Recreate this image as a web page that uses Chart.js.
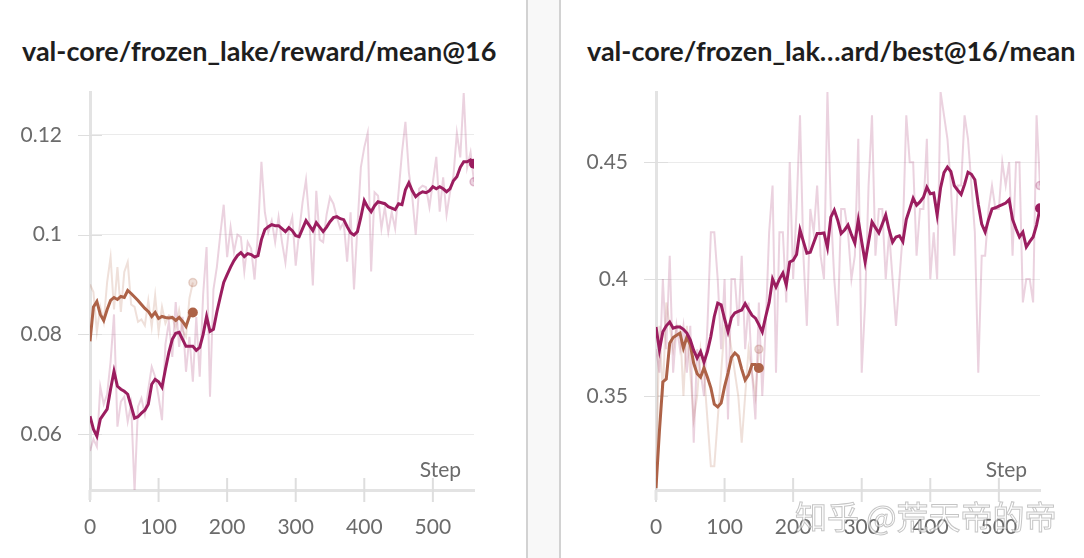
<!DOCTYPE html>
<html>
<head>
<meta charset="utf-8">
<script src="https://cdn.jsdelivr.net/npm/chart.js@4.4.1/dist/chart.umd.min.js"></script>
<style>
  body { margin: 0; width: 1084px; height: 558px; background: #fff; position: relative; overflow: hidden; }
  canvas { position: absolute; top: 0; }
  .title { position: absolute; top: 34px; font: bold 27px Lato, sans-serif; color: #1e1e1e; white-space: nowrap; }
  .divider { position: absolute; left: 526px; top: 0; width: 31px; height: 558px; background: #f8f8f8;
             border-left: 2px solid #d2d2d2; border-right: 2px solid #d2d2d2; }
  .mark { position: absolute; left: 795px; top: 492px; font: 32px "Noto Sans CJK SC", sans-serif;
          color: rgba(255,255,255,0.6); -webkit-text-stroke: 1px rgba(110,110,110,0.4); white-space: nowrap; }
</style>
</head>
<body>
<div class="title" style="left:22px">val-core/frozen_lake/reward/mean@16</div>
<div class="divider"></div>
<div class="title" style="left:587px">val-core/frozen_lak…ard/best@16/mean</div>
<canvas id="left" width="527" height="558" style="left:0"></canvas>
<canvas id="right" width="523" height="558" style="left:561px"></canvas>
<div class="mark">知乎 @荒天帝的帝</div>
<script>
// ---------- steps (every 5 steps) ----------
const steps = Array.from({ length: 113 }, (_, i) => i * 5);   // 0 .. 560
const shortSteps = steps.slice(0, 31);                         // 0 .. 150
const xTicks = [0, 100, 200, 300, 400, 500];

// ---------- reward/mean@16 ----------
const meanTicks = [0.06, 0.08, 0.1, 0.12];
const meanRawA = [
  0.0566, 0.059, 0.0575, 0.0695, 0.066, 0.068, 0.0745, 0.084, 0.0615, 0.0665,
  0.0675, 0.0625, 0.066, 0.0485, 0.0655, 0.0672, 0.064, 0.069, 0.0735, 0.0715,
  0.0675, 0.0628, 0.078, 0.0825, 0.0755, 0.0865, 0.0775, 0.0835, 0.0725, 0.0795,
  0.0705, 0.0835, 0.0715, 0.088, 0.0975, 0.0675, 0.089, 0.0935, 0.1, 0.106,
  0.0955, 0.1015, 0.0965, 0.1, 0.0995, 0.0926, 0.0985, 0.0972, 0.091, 0.1005,
  0.1146, 0.1045, 0.1005, 0.1028, 0.0985, 0.1035, 0.0985, 0.0944, 0.101, 0.1035,
  0.0938, 0.1005, 0.1065, 0.111, 0.1025, 0.0898, 0.1088, 0.099, 0.0985, 0.104,
  0.1075, 0.1062, 0.1035, 0.1012, 0.1025, 0.0946, 0.1045, 0.089, 0.1015, 0.1135,
  0.1175, 0.1204, 0.0926, 0.1085, 0.1078, 0.1012, 0.1055, 0.1005, 0.1045, 0.1012,
  0.1085, 0.1165, 0.1226, 0.1125, 0.1075, 0.1, 0.1092, 0.1098, 0.1095, 0.1055,
  0.1105, 0.1156, 0.1046, 0.1115, 0.104, 0.1085, 0.1118, 0.1204, 0.1155, 0.1284,
  0.1135, 0.1165, 0.1106
];
const meanSmoothA = [
  0.0636, 0.061, 0.0596, 0.063, 0.064, 0.065, 0.069, 0.0726, 0.0696, 0.069,
  0.0686, 0.068, 0.0656, 0.0632, 0.0635, 0.0642, 0.0648, 0.066, 0.070, 0.071,
  0.0705, 0.0694, 0.073, 0.0764, 0.079, 0.0802, 0.0804, 0.079, 0.0776, 0.0776,
  0.0776, 0.0768, 0.0774, 0.080, 0.0836, 0.0806, 0.081, 0.0845, 0.0875, 0.0904,
  0.092, 0.0935, 0.0948, 0.0958, 0.0964, 0.0956, 0.0962, 0.096, 0.0955, 0.0958,
  0.099, 0.101, 0.1016, 0.102, 0.1018, 0.1018, 0.1012, 0.1006, 0.1014, 0.1008,
  0.0998, 0.0996, 0.1012, 0.1028, 0.1018, 0.1008, 0.1024, 0.1015, 0.1006, 0.1015,
  0.1026, 0.1034, 0.1036, 0.1032, 0.103, 0.1016, 0.1004, 0.0999, 0.1006, 0.1035,
  0.1068, 0.1055, 0.1046, 0.1058, 0.1066, 0.1064, 0.1062, 0.1056, 0.1053, 0.105,
  0.1062, 0.106, 0.109, 0.1104, 0.1088, 0.1076, 0.1082, 0.1086, 0.1084, 0.1088,
  0.1096, 0.1092, 0.1096, 0.1092, 0.1086, 0.1092, 0.1108, 0.1116, 0.1135, 0.1146,
  0.1146, 0.115, 0.1142
];
const meanRawB = [
  0.09, 0.0885, 0.0805, 0.0855, 0.0825, 0.0905, 0.0955, 0.085, 0.0935, 0.0845,
  0.0925, 0.0945, 0.086, 0.0855, 0.0825, 0.083, 0.0818, 0.0868, 0.0815, 0.0878,
  0.0805, 0.0855, 0.0822, 0.0838, 0.0835, 0.0812, 0.0848, 0.0808, 0.0795, 0.0872,
  0.0904
];
const meanSmoothB = [
  0.0786, 0.0855, 0.0866, 0.084, 0.0828, 0.085, 0.0868, 0.0874, 0.087, 0.0876,
  0.0874, 0.0888, 0.0882, 0.0875, 0.0868, 0.086, 0.0852, 0.0846, 0.0836, 0.0844,
  0.0832, 0.0836, 0.0834, 0.0833, 0.0834, 0.0828, 0.0834, 0.0826, 0.0816, 0.0836,
  0.0844
];

// ---------- best@16/mean ----------
const bestTicks = [0.35, 0.4, 0.45];
const bestRawA = [
  0.37, 0.36, 0.40, 0.37, 0.41, 0.36, 0.38, 0.37, 0.38, 0.36,
  0.38, 0.33, 0.37, 0.36, 0.35, 0.38, 0.42, 0.42, 0.40, 0.37,
  0.40, 0.34, 0.40, 0.40, 0.38, 0.41, 0.37, 0.39, 0.36, 0.34,
  0.39, 0.35, 0.38, 0.42, 0.44, 0.36, 0.42, 0.42, 0.39, 0.45,
  0.40, 0.43, 0.47, 0.41, 0.38, 0.43, 0.42, 0.44, 0.41, 0.40,
  0.48, 0.43, 0.40, 0.38, 0.43, 0.43, 0.42, 0.40, 0.41, 0.46,
  0.36, 0.39, 0.44, 0.47, 0.41, 0.43, 0.43, 0.40, 0.42, 0.40,
  0.38, 0.40, 0.42, 0.47, 0.45, 0.45, 0.41, 0.43, 0.43, 0.46,
  0.40, 0.42, 0.40, 0.48, 0.47, 0.46, 0.44, 0.41, 0.44, 0.44,
  0.47, 0.46, 0.44, 0.42, 0.36, 0.41, 0.41, 0.43, 0.44, 0.43,
  0.43, 0.45, 0.44, 0.45, 0.41, 0.45, 0.45, 0.39, 0.40, 0.40,
  0.39, 0.47, 0.44
];
const bestSmoothA = [
  0.3795, 0.3697, 0.3775, 0.38, 0.3816, 0.379, 0.3795, 0.3795, 0.3785, 0.3769,
  0.374, 0.3695, 0.3662, 0.369, 0.3645, 0.369, 0.3755, 0.384, 0.3897, 0.389,
  0.383, 0.3775, 0.3835, 0.3855, 0.3862, 0.3868, 0.3895, 0.387, 0.3845, 0.3833,
  0.3805, 0.3774, 0.384, 0.39, 0.40, 0.3966, 0.40, 0.4026, 0.3975, 0.4073,
  0.408, 0.4105, 0.421, 0.416, 0.4111, 0.4115, 0.4155, 0.4195, 0.4195, 0.4197,
  0.4135, 0.4265, 0.4295, 0.4252, 0.4195, 0.421, 0.4231, 0.419, 0.4154, 0.4252,
  0.416, 0.4073, 0.416, 0.4244, 0.422, 0.4197, 0.4235, 0.4274, 0.421, 0.4158,
  0.418, 0.4185, 0.416, 0.4255, 0.43, 0.4346, 0.4316, 0.433, 0.435, 0.4393,
  0.4365, 0.4368, 0.4274, 0.439, 0.4455, 0.4479, 0.446, 0.44, 0.438, 0.4362,
  0.4405, 0.4457, 0.4448, 0.4425, 0.432, 0.4235, 0.4201, 0.4255, 0.43, 0.4305,
  0.4312, 0.4318, 0.4325, 0.434, 0.4255, 0.4215, 0.418, 0.4201, 0.4137, 0.416,
  0.418, 0.4231, 0.4303
];
const bestRawB = [
  0.31, 0.38, 0.35, 0.39, 0.38, 0.37, 0.38, 0.38, 0.35, 0.38,
  0.36, 0.34, 0.35, 0.37, 0.36, 0.34, 0.32, 0.32, 0.34, 0.36,
  0.38, 0.38, 0.37, 0.36, 0.35, 0.33, 0.35, 0.37, 0.36, 0.35,
  0.37
];
const bestSmoothB = [
  0.3107, 0.335, 0.356, 0.3573, 0.3726, 0.375, 0.376, 0.3769, 0.3705, 0.3752,
  0.372, 0.364, 0.3595, 0.358, 0.362, 0.358, 0.3535, 0.3465, 0.3453, 0.347,
  0.354, 0.3598, 0.3665, 0.3684, 0.367, 0.3615, 0.3568, 0.359, 0.3635, 0.3635,
  0.362
];

// ---------- colours ----------
const purple = "#9b1d5f";
const brown = "#ad6247";
const purpleRaw = "rgba(155, 30, 96, 0.2)";
const brownRaw = "rgba(173, 98, 71, 0.2)";
const tickFont = { family: "Lato", size: 21 };

function pts(xs, ys) {
  return ys.map((y, i) => ({ x: xs[i], y: y }));
}

function lastDot(r) {
  return ctx => (ctx.dataIndex === ctx.dataset.data.length - 1 ? r : 0);
}

// tick marks crossing the axes + "Step" label
const wbMarks = {
  id: "wbMarks",
  beforeDatasetsDraw(chart) {
    const { ctx, chartArea, scales } = chart;
    ctx.save();
    ctx.strokeStyle = "#dedede";
    ctx.lineWidth = 2;
    scales.x.ticks.forEach(t => {
      const px = scales.x.getPixelForValue(t.value);
      ctx.beginPath();
      ctx.moveTo(px, chartArea.bottom - 12);
      ctx.lineTo(px, chartArea.bottom + 12);
      ctx.stroke();
    });
    ctx.lineWidth = 1;
    scales.y.ticks.forEach(t => {
      const py = Math.round(scales.y.getPixelForValue(t.value)) + 0.5;
      ctx.beginPath();
      ctx.moveTo(chartArea.left - 12, py);
      ctx.lineTo(chartArea.left + 12, py);
      ctx.stroke();
    });
    ctx.strokeStyle = "#e3e3e3";
    ctx.lineWidth = 3;
    ctx.beginPath();
    ctx.moveTo(chartArea.left, chartArea.bottom);
    ctx.lineTo(chartArea.left, chartArea.bottom + 10);
    ctx.stroke();
    ctx.fillStyle = "#6b6b6b";
    ctx.font = "21px Lato";
    ctx.textAlign = "right";
    ctx.textBaseline = "middle";
    ctx.fillText("Step", chartArea.right - 13, chartArea.bottom - 20);
    ctx.restore();
  }
};

function makePanel(canvasId, yMin, yMax, yTicks, series, axisWidth, padRight) {
  const ctx = document.getElementById(canvasId);

  new Chart(ctx, {
    type: "line",
    data: {
      datasets: [
        { data: pts(steps, series[1]), borderColor: purple, backgroundColor: purple,
          borderWidth: 3, pointRadius: lastDot(5), pointBorderWidth: 0, order: 0 },
        { data: pts(shortSteps, series[3]), borderColor: brown, backgroundColor: brown,
          borderWidth: 3, pointRadius: lastDot(5), pointBorderWidth: 0, order: 1 },
        { data: pts(steps, series[0]), borderColor: purpleRaw, backgroundColor: purpleRaw,
          borderWidth: 2, pointRadius: lastDot(4), pointBorderWidth: 1.5,
          pointBorderColor: "rgba(155, 30, 96, 0.25)", order: 2 },
        { data: pts(shortSteps, series[2]), borderColor: brownRaw, backgroundColor: brownRaw,
          borderWidth: 2, pointRadius: lastDot(4), pointBorderWidth: 1.5,
          pointBorderColor: "rgba(173, 98, 71, 0.25)", order: 3 }
      ]
    },
    options: {
      responsive: false,
      animation: false,
      layout: { padding: { top: 92, right: padRight, bottom: 0, left: 0 } },
      elements: { line: { tension: 0 } },
      plugins: { legend: { display: false }, tooltip: { enabled: false } },
      scales: {
        x: {
          type: "linear",
          min: 0,
          max: 560,
          afterBuildTicks: s => { s.ticks = xTicks.map(v => ({ value: v })); },
          afterFit: s => { s.height = 68; },
          grid: { drawOnChartArea: false, drawTicks: false },
          border: { color: "#e3e3e3", width: 3 },
          ticks: { padding: 25, color: "#6b6b6b", font: tickFont, maxRotation: 0 }
        },
        y: {
          min: yMin,
          max: yMax,
          afterBuildTicks: s => { s.ticks = yTicks.map(v => ({ value: v })); },
          afterFit: s => { s.width = axisWidth; },
          grid: { color: "#ebebeb", drawTicks: false },
          border: { color: "#e3e3e3", width: 3 },
          ticks: { padding: 28, color: "#6b6b6b", font: tickFont,
                   callback: v => String(+v.toFixed(3)) }
        }
      }
    },
    plugins: [wbMarks]
  });
}

makePanel("left", 0.0488, 0.1286, meanTicks,
  [meanRawA, meanSmoothA, meanRawB, meanSmoothB], 90, 53);
makePanel("right", 0.3098, 0.480, bestTicks,
  [bestRawA, bestSmoothA, bestRawB, bestSmoothB], 95, 44);
</script>
</body>
</html>
